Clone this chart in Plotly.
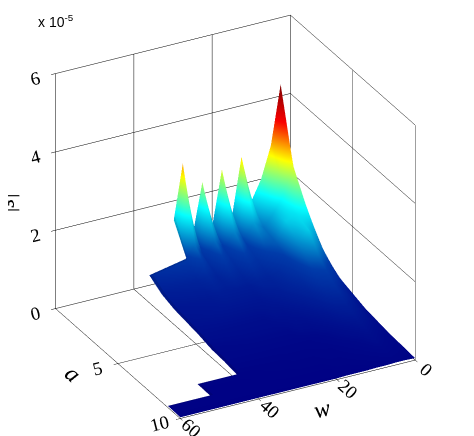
import plotly.graph_objects as go

# axes values
w_vals = [0, 2.5, 5, 7.5, 10, 12.5, 15, 17.5, 20, 22.5, 25, 27.5, 30, 40, 50, 60]
a_vals = [0, 1, 2, 3, 4, 5, 6, 7, 8, 9, 10]
N = None
# |eps| in units of 1e-5, one row per a value
eps_a0 = [1.5, 4.3, 2.8, 2.0, 1.5, 2.7, 1.2, 2.5, 1.1, 2.3, 1.0, 2.9, 1.4, N, N, N]
eps_a1 = [1.2, 2.5, 1.8, 1.4, 1.1, 1.3, 0.9, 1.2, 0.8, 1.1, 0.7, 1.1, 0.8, 0.6, N, N]
eps_a2 = [1.0, 1.8, 1.6, 1.5, 1.0, 0.9, 0.7, 0.8, 0.6, 0.7, 0.5, 0.6, 0.5, 0.4, 0.4, N]
eps_a3 = [0.6, 1.2, 1.5, 1.2, 0.8, 0.6, 0.5, 0.5, 0.4, 0.4, 0.4, 0.4, 0.35, 0.3, N, N]
eps_a4 = [0.4, 0.8, 1.0, 0.9, 0.6, 0.5, 0.4, 0.35, 0.3, 0.3, 0.3, 0.3, 0.3, 0.25, 0.2, N]
eps_a5 = [0.3, 0.5, 0.7, 0.6, 0.45, 0.35, 0.3, 0.25, 0.25, 0.2, 0.2, 0.2, 0.2, 0.2, N, N]
eps_a6 = [0.2, 0.35, 0.45, 0.4, 0.3, 0.25, 0.2, 0.2, 0.15, 0.15, 0.15, 0.15, 0.15, 0.12, 0.1, N]
eps_a7 = [0.15, 0.25, 0.3, 0.25, 0.2, 0.15, 0.12, 0.1, 0.1, 0.1, 0.1, 0.1, 0.1, 0.1, N, N]
eps_a8 = [0.1, 0.15, 0.2, 0.15, 0.12, 0.1, 0.08, 0.08, 0.07, 0.07, 0.07, 0.06, 0.06, 0.05, 0.05, N]
eps_a9 = [0.08, 0.1, 0.12, 0.1, 0.08, 0.07, 0.06, 0.06, 0.05, 0.05, 0.05, 0.05, 0.05, 0.04, 0.04, 0.04]
eps_a10 = [0.05, 0.06, 0.06, 0.05, 0.05, 0.04, 0.04, 0.04, 0.03, 0.03, 0.03, 0.03, 0.03, 0.03, 0.03, 0.03]
z_rows = [eps_a0, eps_a1, eps_a2, eps_a3, eps_a4, eps_a5, eps_a6, eps_a7, eps_a8, eps_a9, eps_a10]

fig = go.Figure(go.Surface(
    x=w_vals, y=a_vals, z=z_rows,
    colorscale="Jet", cmin=0, cmax=4.3, showscale=False,
    lighting=dict(ambient=0.9, diffuse=0.2, specular=0.0),
    connectgaps=False,
))

axis_common = dict(
    showbackground=False, showgrid=True, gridcolor="black", gridwidth=1,
    showline=True, linecolor="black", zeroline=False,
    tickfont=dict(family="Liberation Serif", size=15, color="black"),
    ticks="outside", tickcolor="black",
)
title_font = dict(family="Liberation Serif", size=24, color="black")
fig.update_layout(
    width=474, height=436,
    paper_bgcolor="white",
    margin=dict(l=0, r=0, t=0, b=0),
    scene=dict(
        xaxis=dict(axis_common, range=[60, 0], tickvals=[0, 20, 40, 60],
                   title=dict(text="<i>w</i>", font=title_font)),
        yaxis=dict(axis_common, range=[10, 0], tickvals=[5, 10],
                   title=dict(text="<i>a</i>", font=title_font)),
        zaxis=dict(axis_common, range=[0, 6], tickvals=[0, 2, 4, 6],
                   title=dict(text="|<i>ε</i>|", font=title_font)),
        aspectmode="manual",
        aspectratio=dict(x=1.22, y=1.22, z=1.22),
        camera=dict(eye=dict(x=-0.8, y=-1.6, z=0.9), center=dict(x=0.05, y=0, z=-0.06),
                    projection=dict(type="orthographic")),
    ),
    annotations=[dict(text="x 10<sup>-5</sup>", x=0.06, y=0.995, xref="paper", yref="paper",
                      showarrow=False, font=dict(family="Liberation Sans", size=14, color="black"))],
)
fig.write_html("out.html")
